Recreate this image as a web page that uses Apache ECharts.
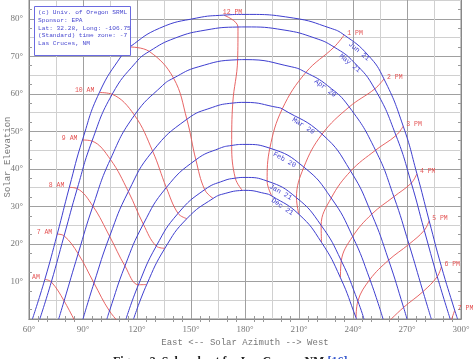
<!DOCTYPE html>
<html><head><meta charset="utf-8">
<script src="https://cdn.jsdelivr.net/npm/echarts@6/dist/echarts.min.js"></script>
<style>html,body{margin:0;padding:0;background:#fff}#c{width:474px;height:359px}</style>
</head><body><div id="c"></div>
<script>
// ---- data ----
const dates = ['Jun 21','May 21','Apr 20','Mar 20','Feb 20','Jan 21','Dec 21'];
const hourLabels = ['6 AM','7 AM','8 AM','9 AM','10 AM','11 AM','12 PM','1 PM','2 PM','3 PM','4 PM','5 PM','6 PM','7 PM'];
const xTickLabels = [60,90,120,150,180,210,240,270,300];
const yTickLabels = [10,20,30,40,50,60,70,80];
// [azimuth, elevation] of the sun at clock hours 6 AM .. 7 PM for each date
const jun21 = [[68.8,10.55],[75.7,22.62],[82.4,35.07],[89.7,47.70],[99.1,60.35],[116.0,72.48],[168.2,80.97],[235.1,75.68],[257.2,63.97],[267.9,51.38],[275.5,38.72],[282.3,26.21],[289.1,14.0],[296.5,2.32]];
const may21 = [[72.4,9.87],[79.5,22.16],[86.8,34.74],[95.0,47.41],[106.2,59.88],[126.8,71.30],[176.1,77.80],[229.5,72.46],[252.1,61.31],[263.9,48.89],[272.4,36.22],[279.6,23.63],[286.8,11.29],[294.4,-0.57]];
const apr20 = [[79.5,4.81],[87.3,17.40],[95.5,30.07],[105.2,42.54],[118.6,54.31],[140.3,64.19],[175.9,69.08],[213.8,65.70],[237.9,56.50],[252.5,44.97],[262.7,32.59],[271.1,19.93],[278.9,7.31],[286.9,-5.04]];
const mar20 = [[88.1,-3.09],[96.1,9.58],[104.8,22.04],[115.2,33.96],[128.7,44.72],[147.7,53.22],[173.2,57.54],[200.7,55.98],[222.8,49.26],[238.7,39.40],[250.4,27.93],[259.8,15.69],[268.1,3.09],[276.1,-9.58]];
const feb20 = [[96.8,-10.3],[104.7,2.14],[113.3,14.13],[123.5,25.28],[136.3,35.03],[152.7,42.42],[172.6,46.24],[193.8,45.52],[212.7,40.47],[227.9,32.24],[239.8,21.98],[249.4,10.53],[257.8,-1.64],null];
const jan21 = [null,[112.4,-2.21],[120.8,9.13],[130.7,19.43],[142.8,28.14],[157.6,34.47],[174.6,37.53],[192.3,36.76],[208.6,32.32],[222.3,24.96],[233.5,15.53],[242.7,4.77],[250.7,-6.88],null];
const dec21 = [null,[116.9,-1.68],[125.4,9.18],[135.5,18.84],[147.7,26.74],[162.3,32.13],[178.5,34.26],[194.9,32.77],[209.9,27.92],[222.5,20.41],[233.0,11.02],[241.7,0.34],[249.2,-11.2],null];
// extra points on each day path: sunrise, around solar noon, sunset
const jun21Path = [[61.9,0],[111.6,70.29],[132.6,77.5],[153.2,80.2],[180,81.16],[206.8,80.2],[227.4,77.5],[248.4,70.29],[298.1,0]];
const may21Path = [[66.0,0],[119.4,68.37],[141.2,74.86],[158.3,77.0],[180,77.82],[201.7,77.0],[218.8,74.86],[240.6,68.37],[294.0,0]];
const apr20Path = [[76.5,0],[134.1,62.18],[154.0,67.18],[180,69.12],[206.0,67.18],[225.9,62.18],[283.5,0]];
const mar20Path = [[90,0],[161.8,56.37],[180,57.72],[198.2,56.37],[270,0]];
const feb20Path = [[103.3,0],[165.9,45.48],[180,46.52],[256.7,0]];
const jan21Path = [[113.9,0],[168.2,36.84],[180,37.72],[246.1,0]];
const dec21Path = [[118.1,0],[169.0,33.46],[180,34.28],[191.0,33.46],[241.9,0]];

// ---- build ----
const hourPts = [jun21, may21, apr20, mar20, feb20, jan21, dec21];
const extraPts = [jun21Path, may21Path, apr20Path, mar20Path, feb20Path, jan21Path, dec21Path];
const dayPaths = hourPts.map((hp, i) =>
  hp.filter(p => p && p[1] >= 0).concat(extraPts[i]).sort((a, b) => a[0] - b[0]));
const hourLines = hourLabels.map((_, h) => {
  const pts = [];
  for (let d = 0; d < hourPts.length; d++) {
    const p = hourPts[d][h];
    if (!p) break;
    pts.push(p);
    if (p[1] < 0) break;
  }
  return pts;
});

const BLUE = '#3f3fcf', RED = '#e45454';
const labelAz = [244.4, 239.4, 225.6, 213.3, 202.8, 200.6, 201.7];
function curveEl(pts, az) {
  for (let i = 1; i < pts.length; i++) {
    if (pts[i][0] >= az) {
      const a = pts[i-1], b = pts[i];
      const t = (az - a[0]) / (b[0] - a[0]);
      return a[1] + t * (b[1] - a[1]);
    }
  }
  return pts[pts.length-1][1];
}

const series = [];
dayPaths.forEach((pts, i) => series.push({
  type: 'line', name: dates[i], data: pts, showSymbol: false, symbol: 'none',
  smooth: 0.5, z: 3,
  lineStyle: { color: BLUE, width: 1 }, silent: true
}));
hourLines.forEach((pts, i) => { if (pts.length > 1) series.push({
  type: 'line', name: hourLabels[i], data: pts, showSymbol: false, symbol: 'none',
  smooth: 0.4, z: 2, lineStyle: { color: RED, width: 0.9 }, silent: true
}); });
// date labels along the day paths
series.push({
  type: 'custom', z: 4, silent: true, encode: { x: 0, y: 1 },
  data: labelAz.map((az, i) => [az, curveEl(dayPaths[i], az)]),
  renderItem(params, api) {
    const i = params.dataIndex, az = api.value(0), pts = dayPaths[i];
    const p1 = api.coord([az - 1.5, curveEl(pts, az - 1.5)]);
    const p2 = api.coord([az + 1.5, curveEl(pts, az + 1.5)]);
    const ang = Math.atan2(p2[1] - p1[1], p2[0] - p1[0]);
    const cx = (p1[0] + p2[0]) / 2, cy = (p1[1] + p2[1]) / 2;
    const off = 3;
    return { type: 'text', x: cx - Math.sin(ang) * off, y: cy + Math.cos(ang) * off, rotation: -ang,
      style: { text: dates[i], fill: BLUE, font: '7px "Liberation Mono"', align: 'center', verticalAlign: 'middle' } };
  }
});
// hour labels at the June end of each hour line
const hourLabelData = hourLines.map((pts, i) => [pts[0][0], pts[0][1], i]);
function hourRender(params, api) {
  const i = api.value(2), p = api.coord([api.value(0), api.value(1)]);
  const am = i < 6;
  let x = am ? p[0] - 5 : p[0] + 3, y = p[1] - 2;
  if (i === 6) { x = p[0] - 1; y = p[1] - 3; }
  return { type: 'text', x, y, style: { text: hourLabels[i], fill: RED, font: '6.5px "Liberation Mono"',
    align: am ? 'right' : 'left', verticalAlign: 'middle' } };
}
series.push({ type: 'custom', z: 4, silent: true, clip: true, encode: { x: 0, y: 1 },
  data: hourLabelData.filter(d => d[2] < 6), renderItem: hourRender });
series.push({ type: 'custom', z: 4, silent: true, clip: false, encode: { x: 0, y: 1 },
  data: hourLabelData.filter(d => d[2] >= 6), renderItem: hourRender });

const tickFont = { color: '#777', fontFamily: 'Liberation Serif', fontSize: 9 };
const chart = echarts.init(document.getElementById('c'), null, { renderer: 'canvas' });
chart.setOption({
  animation: false,
  grid: { left: 29, right: 13, top: 0, bottom: 40, containLabel: false, outerBoundsMode: 'none',
    show: true, borderColor: '#888', borderWidth: 1, backgroundColor: 'transparent' },
  xAxis: [{
    type: 'value', min: 60, max: 300, interval: 15, position: 'bottom',
    axisLine: { show: true, lineStyle: { color: '#888' } },
    axisTick: { show: false, inside: true },
    minorTick: { show: true, splitNumber: 3, length: 3, lineStyle: { color: '#999' } },
    axisLabel: Object.assign({ margin: 6, formatter: v => xTickLabels.includes(v) ? v + '°' : '' }, tickFont),
    splitLine: { show: true, lineStyle: { color: ['#a0a0a0', '#d0d0d0'], width: 1 } }
  }, {
    type: 'value', min: 60, max: 300, interval: 15, position: 'top',
    axisLine: { show: true, lineStyle: { color: '#888' } },
    axisTick: { show: false, inside: true }, axisLabel: { show: false },
    minorTick: { show: true, splitNumber: 3, length: 3, lineStyle: { color: '#999' } },
    splitLine: { show: false }
  }],
  yAxis: [{
    type: 'value', min: 0, max: 85, interval: 5, position: 'left',
    axisLine: { show: true, lineStyle: { color: '#888' } },
    axisTick: { show: false, inside: true },
    minorTick: { show: true, splitNumber: 2, length: 3, lineStyle: { color: '#999' } },
    axisLabel: Object.assign({ margin: 6, formatter: v => yTickLabels.includes(v) ? v + '°' : '' }, tickFont),
    splitLine: { show: true, lineStyle: { color: ['#a0a0a0', '#d0d0d0'], width: 1 } }
  }, {
    type: 'value', min: 0, max: 85, interval: 5, position: 'right',
    axisLine: { show: true, lineStyle: { color: '#888' } },
    axisTick: { show: false, inside: true }, axisLabel: { show: false },
    minorTick: { show: true, splitNumber: 2, length: 3, lineStyle: { color: '#999' } },
    splitLine: { show: false }
  }],
  graphic: [
    { type: 'rect', z: 100, shape: { x: 34.5, y: 6.5, width: 96, height: 49 },
      style: { fill: '#fff', stroke: '#6a6ae0', lineWidth: 1 } },
    { type: 'text', z: 101, x: 38, y: 9, style: {
      text: '(c) Univ. of Oregon SRML\nSponsor: EPA\nLat: 32.28, Long: -106.75\n(Standard) time zone: -7\nLas Cruces, NM',
      fill: '#4a4ad0', font: '6.2px "Liberation Mono"', lineHeight: 7.6, verticalAlign: 'top' } },
    { type: 'text', z: 50, x: 8, y: 157, rotation: Math.PI / 2, style: {
      text: 'Solar Elevation', fill: '#777', font: '9px "Liberation Mono"', align: 'center', verticalAlign: 'middle' } },
    { type: 'text', z: 50, x: 245, y: 343, style: {
      text: 'East <-- Solar Azimuth --> West', fill: '#777', font: '9px "Liberation Mono"', align: 'center', verticalAlign: 'middle' } },
    { type: 'text', z: 50, x: 113, y: 356, style: {
      text: '{a|Figure 3. Solar chart for Las Cruces, NM }{b|[16]}', verticalAlign: 'top',
      rich: { a: { fill: '#222', font: 'bold 12px "Liberation Serif"' }, b: { fill: '#3355cc', font: 'bold 12px "Liberation Serif"' } } } }
  ],
  series
});
</script></body></html>
